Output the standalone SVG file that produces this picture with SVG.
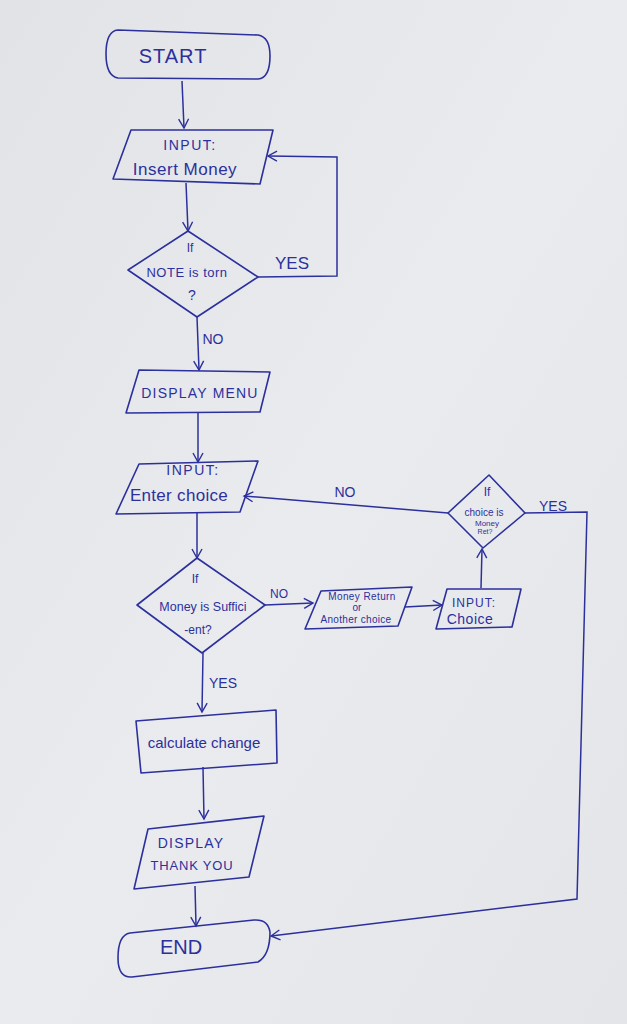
<svg xmlns="http://www.w3.org/2000/svg" width="627" height="1024" viewBox="0 0 627 1024">
  <defs>
    <linearGradient id="paper" x1="0" y1="0" x2="1" y2="1">
      <stop offset="0" stop-color="#e2e3e6"/>
      <stop offset="0.5" stop-color="#eaebee"/>
      <stop offset="1" stop-color="#e4e5e8"/>
    </linearGradient>
    <marker id="arr" markerWidth="12" markerHeight="12" refX="10" refY="6" orient="auto" markerUnits="userSpaceOnUse">
      <path d="M1,1 L10,6 L1,11" fill="none" stroke="#2c309c" stroke-width="1.4"/>
    </marker>
    <style>
      .shape { fill: none; stroke: #2c309c; stroke-width: 1.6; stroke-linejoin: round; }
      .line { fill: none; stroke: #2c309c; stroke-width: 1.5; }
      text { font-family: "Liberation Sans", Arial, sans-serif; fill: #2c309c; text-anchor: middle; }
      .big { font-size: 20px; }
      .med { font-size: 17px; }
      .sm { font-size: 14px; }
      .xs { font-size: 12px; }
      .tiny { font-size: 10px; }
    </style>
  </defs>
  <rect x="0" y="0" width="627" height="1024" fill="url(#paper)"/>

  <g id="connectors">
    <path class="line" d="M182,81 L184,128" marker-end="url(#arr)"/>
    <path class="line" d="M186,183 L188,231" marker-end="url(#arr)"/>
    <path class="line" d="M258,277 L337,276 L337,157 L268,156" marker-end="url(#arr)"/>
    <path class="line" d="M197,317 L199,370" marker-end="url(#arr)"/>
    <path class="line" d="M198,412 L198,462" marker-end="url(#arr)"/>
    <path class="line" d="M197,513 L197,558" marker-end="url(#arr)"/>
    <path class="line" d="M265,605 L313,603" marker-end="url(#arr)"/>
    <path class="line" d="M405,607 L442,605" marker-end="url(#arr)"/>
    <path class="line" d="M481,588 L482,549" marker-end="url(#arr)"/>
    <path class="line" d="M448,513 L244,496" marker-end="url(#arr)"/>
    <path class="line" d="M525,513 L587,512 L577,899 L271,936" marker-end="url(#arr)"/>
    <path class="line" d="M203,653 L202,712" marker-end="url(#arr)"/>
    <path class="line" d="M203,767 L204,819" marker-end="url(#arr)"/>
    <path class="line" d="M195,886 L196,926" marker-end="url(#arr)"/>
    <text class="med" x="292" y="269">YES</text>
    <text class="sm" x="213" y="344">NO</text>
    <text class="sm" x="345" y="497">NO</text>
    <text class="sm" x="553" y="511">YES</text>
    <text class="xs" x="279" y="598">NO</text>
    <text class="sm" x="223" y="688">YES</text>
  </g>

  <g id="start">
    <path class="shape" d="M118,30 L258,35 Q270,37 270,56 Q270,78 258,79 L118,78 Q106,76 106,54 Q106,31 118,30 Z"/>
    <text class="big" x="173" y="63" letter-spacing="1">START</text>
  </g>

  <g id="insert-money">
    <path class="shape" d="M131,130 L273,130 L260,184 L113,179 Z"/>
    <text class="sm" x="190" y="150" letter-spacing="1.5">INPUT:</text>
    <text class="med" x="185" y="175" letter-spacing="0.5">Insert Money</text>
  </g>

  <g id="note-torn">
    <path class="shape" d="M188,231 L258,277 L197,317 L128,270 Z"/>
    <text class="xs" x="190" y="252">If</text>
    <text style="font-size:13px" x="187" y="277" letter-spacing="0.5">NOTE is torn</text>
    <text class="sm" x="192" y="300">?</text>
  </g>

  <g id="display-menu">
    <path class="shape" d="M139,370 L270,372 L260,412 L126,413 Z"/>
    <text class="sm" x="200" y="398" letter-spacing="1.2">DISPLAY MENU</text>
  </g>

  <g id="enter-choice">
    <path class="shape" d="M139,464 L258,461 L240,512 L116,514 Z"/>
    <text class="sm" x="193" y="475" letter-spacing="1.5">INPUT:</text>
    <text class="med" x="179" y="501" letter-spacing="0.3">Enter choice</text>
  </g>

  <g id="money-sufficient">
    <path class="shape" d="M197,558 L265,605 L202,653 L137,605 Z"/>
    <text class="xs" x="195" y="583">If</text>
    <text style="font-size:12.5px" x="203" y="611">Money is Suffici</text>
    <text class="xs" x="198" y="634">-ent?</text>
  </g>

  <g id="money-return">
    <path class="shape" d="M321,591 L412,587 L398,626 L305,629 Z"/>
    <text class="tiny" x="362" y="600" letter-spacing="0.4">Money Return</text>
    <text class="tiny" x="357" y="611">or</text>
    <text class="tiny" x="356" y="623" letter-spacing="0.3">Another choice</text>
  </g>

  <g id="input-choice">
    <path class="shape" d="M447,589 L521,589 L512,627 L436,629 Z"/>
    <text class="xs" x="474" y="607" letter-spacing="1">INPUT:</text>
    <text class="sm" x="470" y="624" letter-spacing="0.5">Choice</text>
  </g>

  <g id="choice-money-ret">
    <path class="shape" d="M489,475 L525,513 L483,548 L448,513 Z"/>
    <text class="xs" x="487" y="496">If</text>
    <text style="font-size:10px" x="484" y="516">choice is</text>
    <text style="font-size:8px" x="487" y="526">Money</text>
    <text style="font-size:7px" x="485" y="534">Ret?</text>
  </g>

  <g id="calculate-change">
    <path class="shape" d="M136,721 L276,710 L277,763 L141,773 Z"/>
    <text style="font-size:15px" x="204" y="748">calculate change</text>
  </g>

  <g id="thank-you">
    <path class="shape" d="M148,829 L264,816 L249,877 L134,889 Z"/>
    <text class="sm" x="191" y="848" letter-spacing="1.2">DISPLAY</text>
    <text style="font-size:13px" x="192" y="870" letter-spacing="0.8">THANK YOU</text>
  </g>

  <g id="end">
    <path class="shape" d="M130,933 L254,920 Q268,919 270,932 Q270,955 258,962 L132,977 Q118,978 118,958 Q118,935 130,933 Z"/>
    <text class="big" x="181" y="954">END</text>
  </g>
</svg>
